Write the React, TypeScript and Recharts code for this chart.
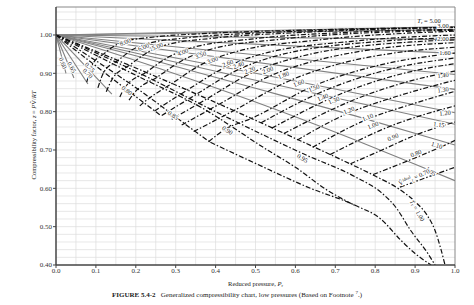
import React from 'react';
import { LineChart, Line, XAxis, YAxis, ReferenceLine, ReferenceDot } from 'recharts';

type P = [number, number];

// ---- Isotherms (reduced temperature Tr): [Pr, z]
const tr060: P[] = [[0, 1], [0.025, 0.9]];
const tr065: P[] = [[0, 1], [0.045, 0.888]];
const tr070: P[] = [[0, 1], [0.08, 0.872]];
const tr075: P[] = [[0, 1], [0.14, 0.846]];
const tr080: P[] = [[0, 1], [0.13, 0.895], [0.26, 0.792]];
const tr085: P[] = [[0, 1], [0.236, 0.836], [0.344, 0.752], [0.387, 0.72]];
const tr090: P[] = [[0, 1], [0.2, 0.895], [0.362, 0.812], [0.53, 0.7], [0.6, 0.655], [0.68, 0.595], [0.75, 0.555]];
const tr095: P[] = [[0, 1], [0.2, 0.905], [0.4, 0.8], [0.62, 0.69], [0.75, 0.63], [0.814, 0.59], [0.852, 0.55], [0.889, 0.49], [0.932, 0.43], [0.95, 0.4]];
const tr100: P[] = [[0, 1], [0.2, 0.914], [0.4, 0.824], [0.6, 0.73], [0.7, 0.682], [0.8, 0.632], [0.86, 0.598], [0.9, 0.565], [0.93, 0.53], [0.95, 0.49], [0.965, 0.44], [0.975, 0.4]];
const satCurve: P[] = [[0.387, 0.72], [0.5, 0.665], [0.638, 0.6], [0.751, 0.555], [0.814, 0.52], [0.864, 0.465], [0.9, 0.43], [0.94, 0.4]];
const tr105: P[] = [[0, 1], [0.25, 0.916], [0.5, 0.825], [0.75, 0.726], [0.9, 0.663], [1, 0.62]];
const tr110: P[] = [[0, 1], [0.25, 0.932], [0.5, 0.861], [0.75, 0.789], [1, 0.713]];
const tr115: P[] = [[0, 1], [0.5, 0.882], [1, 0.767]];
const tr120: P[] = [[0, 1], [0.5, 0.9], [1, 0.797]];
const tr130: P[] = [[0, 1], [1, 0.858]];
const tr140: P[] = [[0, 1], [1, 0.897]];
const tr160: P[] = [[0, 1], [1, 0.952]];
const tr200: P[] = [[0, 1], [1, 0.988]];
const tr300: P[] = [[0, 1], [1, 1.014]];
const tr500: P[] = [[0, 1], [1, 1.022]];

// ---- Ideal reduced volume lines: [Pr, z]
const v800: P[] = [[0.077, 0.877], [0.093, 0.926], [0.119, 0.95], [0.146, 0.971], [0.172, 0.983], [0.249, 0.995], [0.376, 1.004], [0.633, 1.013], [1, 1.02]];
const v600: P[] = [[0.105, 0.862], [0.1205, 0.904], [0.156, 0.934], [0.192, 0.962], [0.228, 0.977], [0.331, 0.993], [0.503, 1.005], [0.847, 1.017], [1, 1.02]];
const v500: P[] = [[0.126, 0.852], [0.142, 0.887], [0.184, 0.921], [0.229, 0.954], [0.272, 0.973], [0.397, 0.992], [0.604, 1.006], [1, 1.02]];
const v400: P[] = [[0.16, 0.838], [0.172, 0.862], [0.226, 0.903], [0.283, 0.943], [0.338, 0.966], [0.495, 0.99], [0.756, 1.008], [1, 1.015]];
const v350: P[] = [[0.183, 0.83], [0.193, 0.845], [0.255, 0.891], [0.321, 0.936], [0.385, 0.962], [0.565, 0.989], [0.865, 1.009], [1, 1.012]];
const v300: P[] = [[0.21, 0.815], [0.22, 0.824], [0.291, 0.874], [0.37, 0.926], [0.446, 0.955], [0.658, 0.987], [1, 1.01]];
const v260: P[] = [[0.247, 0.802], [0.33, 0.857], [0.423, 0.915], [0.511, 0.949], [0.758, 0.985], [1, 1.0]];
const v240: P[] = [[0.265, 0.79], [0.353, 0.846], [0.455, 0.909], [0.551, 0.945], [0.82, 0.984], [1, 0.993]];
const v220: P[] = [[0.29, 0.78], [0.379, 0.834], [0.492, 0.902], [0.598, 0.94], [0.893, 0.982], [1, 0.987]];
const v200: P[] = [[0.315, 0.765], [0.41, 0.82], [0.536, 0.893], [0.654, 0.934], [0.766, 0.958], [1, 0.98]];
const v180: P[] = [[0.345, 0.748], [0.446, 0.803], [0.588, 0.882], [0.722, 0.928], [0.847, 0.953], [1, 0.968]];
const v160: P[] = [[0.383, 0.722], [0.424, 0.754], [0.489, 0.782], [0.652, 0.87], [0.805, 0.92], [1, 0.953]];
const v150: P[] = [[0.514, 0.771], [0.69, 0.862], [0.854, 0.915], [1, 0.94]];
const v140: P[] = [[0.541, 0.757], [0.732, 0.854], [0.909, 0.909], [1, 0.925]];
const v130: P[] = [[0.571, 0.743], [0.779, 0.844], [0.877, 0.877], [1, 0.906]];
const v120: P[] = [[0.605, 0.726], [0.728, 0.794], [0.833, 0.833], [1, 0.882]];
const v110: P[] = [[0.643, 0.707], [0.78, 0.78], [0.896, 0.821], [1, 0.853]];
const v100: P[] = [[0.687, 0.688], [0.756, 0.724], [0.84, 0.763], [0.906, 0.787], [1, 0.815]];
const v090: P[] = [[0.738, 0.664], [0.817, 0.7], [0.906, 0.741], [1, 0.773]];
const v080: P[] = [[0.795, 0.636], [0.88, 0.671], [0.99, 0.72], [1, 0.725]];
const v070: P[] = [[0.862, 0.603], [0.957, 0.639], [1, 0.655]];

// ---- Axes
const xTicks = [0, 0.1, 0.2, 0.3, 0.4, 0.5, 0.6, 0.7, 0.8, 0.9, 1.0];
const yTicks = [0.4, 0.5, 0.6, 0.7, 0.8, 0.9, 1.0];
const gridPr = [0.05, 0.1, 0.15, 0.2, 0.25, 0.3, 0.35, 0.4, 0.45, 0.5, 0.55, 0.6, 0.65, 0.7, 0.75, 0.8, 0.85, 0.9, 0.95];
const gridZ = [0.42, 0.44, 0.46, 0.48, 0.5, 0.52, 0.54, 0.56, 0.58, 0.6, 0.62, 0.64, 0.66, 0.68, 0.7, 0.72, 0.74, 0.76, 0.78, 0.8, 0.82, 0.84, 0.86, 0.88, 0.9, 0.92, 0.94, 0.96, 0.98, 1.0, 1.02, 1.04, 1.06];
const yMax = 1.073;

// ---- Labels: text, Pr, z
const trLabelText = ['0.60', '0.65', '0.70', '0.75', '0.80', '0.85', '0.90', '0.95'];
const trLabelPr = [0.018, 0.04, 0.08, 0.085, 0.178, 0.294, 0.43, 0.618];
const trLabelZ = [0.927, 0.916, 0.9, 0.916, 0.856, 0.791, 0.752, 0.679];
const vLabelText = ['8.00', '6.00', '5.00', '4.00', '3.50', '3.00', '2.60', '2.40', '2.20', '2.00', '1.80', '1.60', '1.50', '1.40', '1.30', '1.20', '1.10', '1.00', '0.90', '0.80'];
const vLabelPr = [0.173, 0.219, 0.254, 0.317, 0.362, 0.392, 0.43, 0.457, 0.485, 0.53, 0.57, 0.608, 0.646, 0.668, 0.696, 0.734, 0.781, 0.794, 0.844, 0.902];
const vLabelZ = [0.982, 0.969, 0.971, 0.956, 0.948, 0.935, 0.927, 0.922, 0.909, 0.909, 0.896, 0.875, 0.862, 0.838, 0.83, 0.804, 0.786, 0.765, 0.734, 0.692];
const rightLabelText = ['3.00', '2.00', '1.60', '1.40', '1.30', '1.20', '1.15', '1.10', '1.05'];
const rightLabelPr = [0.97, 0.97, 0.975, 0.97, 0.97, 0.975, 0.96, 0.955, 0.94];
const rightLabelZ = [1.024, 0.991, 0.954, 0.896, 0.858, 0.797, 0.767, 0.713, 0.645];

const trAngles = [68, 62, 45, 45, 36, 33, 33, 30];
const rightAngles = [0, 0, 0, -8, -8, -5, 8, 18, 35];

const toData = (pts: P[]) => pts.map(([x, y]) => ({ x, y }));

const solidSeries = [tr060, tr065, tr070, tr075, tr105, tr110, tr115, tr120, tr130, tr140, tr160, tr200, tr300, tr500];
const dashSeries = [tr080, tr085, tr090, tr095, tr100, satCurve, v800, v600, v500, v400, v350, v300, v260, v240, v220, v200, v180, v160, v150, v140, v130, v120, v110, v100, v090, v080, v070];

const FONT = "'Liberation Serif', 'Times New Roman', serif";

const makeLabel = (content: React.ReactNode, angle: number, size = 6.5, anchor: 'middle' | 'start' | 'end' = 'middle') => (props: any) => {
  const vb = props.viewBox || {};
  const cx = (vb.x ?? 0) + (vb.width ?? 0) / 2;
  const cy = (vb.y ?? 0) + (vb.height ?? 0) / 2;
  return (
    <text
      x={cx}
      y={cy}
      transform={`rotate(${angle} ${cx} ${cy})`}
      textAnchor={anchor}
      dominantBaseline="central"
      fontFamily={FONT}
      fontSize={size}
      fill="#222"
      stroke="#fff"
      strokeWidth={2.2}
      paintOrder="stroke"
    >
      {content}
    </text>
  );
};

const yTitle = () => {
  const x = 33;
  const y = 135;
  return (
    <text x={x} y={y} transform={`rotate(-90 ${x} ${y})`} textAnchor="middle" dominantBaseline="central" fontFamily={FONT} fontSize={6.5} fill="#222">
      Compressibility factor, <tspan fontStyle="italic">z</tspan> = <tspan fontStyle="italic">P</tspan>V̂/<tspan fontStyle="italic">RT</tspan>
    </text>
  );
};

const xTitle = (props: any) => {
  const vb = props.viewBox || {};
  const x = (vb.x ?? 56) + (vb.width ?? 399) / 2;
  const y = (vb.y ?? 265) + 18;
  return (
    <text x={x} y={y} textAnchor="middle" dominantBaseline="central" fontFamily={FONT} fontSize={6.5} fill="#222">
      Reduced pressure, <tspan fontStyle="italic">P</tspan><tspan fontSize={4.5} dy={1.5}>r</tspan>
    </text>
  );
};

export default function App() {
  return (
    <div style={{ position: 'absolute', left: 0, top: 0, width: 474, height: 305, background: '#fff' }}>
      <LineChart width={474} height={305} margin={{ top: 7, right: 19, bottom: 0, left: 0 }}>
        <XAxis
          type="number"
          dataKey="x"
          domain={[0, 1]}
          ticks={xTicks}
          allowDataOverflow
          height={40}
          tickSize={3}
          tickMargin={0}
          tickFormatter={(v: number) => v.toFixed(1)}
          tick={{ fontFamily: FONT, fontSize: 7, fill: '#333' }}
          axisLine={{ stroke: '#444', strokeWidth: 1.5 }}
          tickLine={{ stroke: '#444' }}
          label={xTitle}
        />
        <YAxis
          type="number"
          dataKey="y"
          domain={[0.4, yMax]}
          ticks={yTicks}
          allowDataOverflow
          width={56}
          tickSize={3}
          tickMargin={1}
          tickFormatter={(v: number) => v.toFixed(2)}
          tick={{ fontFamily: FONT, fontSize: 7, fill: '#333' }}
          axisLine={{ stroke: '#444', strokeWidth: 1.5 }}
          tickLine={{ stroke: '#444' }}
          label={yTitle}
        />
        {gridPr.map((v) => (
          <ReferenceLine key={`gx${v}`} x={v} stroke="#dcdcdc" strokeWidth={0.7} />
        ))}
        {gridZ.map((v) => (
          <ReferenceLine key={`gy${v}`} y={v} stroke="#dcdcdc" strokeWidth={0.7} />
        ))}
        <ReferenceLine x={1} stroke="#888" strokeWidth={1} />
        <ReferenceLine y={yMax} stroke="#888" strokeWidth={1} />
        {solidSeries.map((s, i) => (
          <Line
            key={`s${i}`}
            data={toData(s)}
            dataKey="y"
            type="monotone"
            stroke="#808080"
            strokeWidth={1.1}
            dot={false}
            activeDot={false}
            isAnimationActive={false}
          />
        ))}
        {dashSeries.map((s, i) => (
          <Line
            key={`d${i}`}
            data={toData(s)}
            dataKey="y"
            type="monotone"
            stroke="#111"
            strokeWidth={1.2}
            strokeDasharray="5 2 1.5 2"
            dot={false}
            activeDot={false}
            isAnimationActive={false}
          />
        ))}
        {trLabelText.map((t, i) => (
          <ReferenceDot key={`tl${i}`} x={trLabelPr[i]} y={trLabelZ[i]} r={1} fill="none" stroke="none" ifOverflow="visible" label={makeLabel(t, trAngles[i])} />
        ))}
        {vLabelText.map((t, i) => (
          <ReferenceDot key={`vl${i}`} x={vLabelPr[i]} y={vLabelZ[i]} r={1} fill="none" stroke="none" ifOverflow="visible" label={makeLabel(t, -22)} />
        ))}
        {rightLabelText.map((t, i) => (
          <ReferenceDot key={`rl${i}`} x={rightLabelPr[i]} y={rightLabelZ[i]} r={1} fill="none" stroke="none" ifOverflow="visible" label={makeLabel(t, rightAngles[i])} />
        ))}
        <ReferenceDot
          x={0.897}
          y={0.63}
          r={1}
          fill="none"
          stroke="none"
          ifOverflow="visible"
          label={makeLabel(
            <>
              V̂<tspan fontSize={4.5} dy={-2}>ideal</tspan><tspan fontSize={4.5} dy={4}>r</tspan><tspan dy={-2}> = 0.70</tspan>
            </>,
            -24
          )}
        />
        <ReferenceDot
          x={0.907}
          y={0.543}
          r={1}
          fill="none"
          stroke="none"
          ifOverflow="visible"
          label={makeLabel(
            <>
              <tspan fontStyle="italic">T</tspan><tspan fontSize={4.5} dy={1.5}>r</tspan><tspan dy={-1.5}> = 1.00</tspan>
            </>,
            60
          )}
        />
        <ReferenceDot
          x={0.935}
          y={1.039}
          r={1}
          fill="none"
          stroke="none"
          ifOverflow="visible"
          label={makeLabel(
            <>
              <tspan fontStyle="italic">T</tspan><tspan fontSize={4.5} dy={1.5}>r</tspan><tspan dy={-1.5}> = 5.00</tspan>
            </>,
            0
          )}
        />
      </LineChart>
      <div
        style={{
          position: 'absolute',
          left: 0,
          top: 290,
          width: 474,
          textAlign: 'center',
          fontFamily: FONT,
          fontSize: 7,
          color: '#222',
          whiteSpace: 'nowrap',
        }}
      >
        <b>FIGURE 5.4-2</b>&nbsp;&nbsp; Generalized compressibility chart, low pressures (Based on Footnote <sup style={{ fontSize: 5 }}>7</sup>.)
      </div>
    </div>
  );
}
